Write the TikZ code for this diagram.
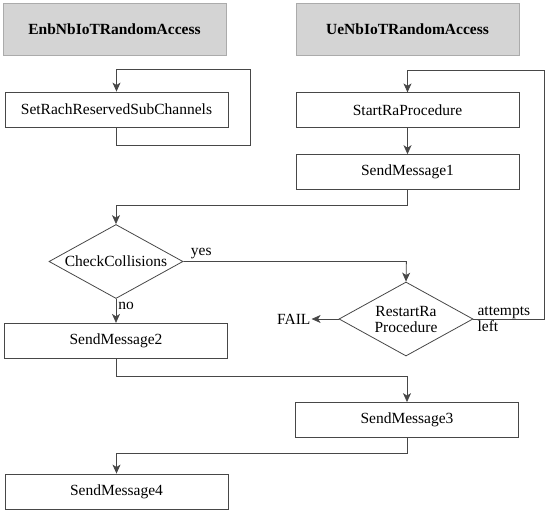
\documentclass[tikz,border=0pt]{standalone}
\usepackage{fontspec}
\setmainfont{Liberation Serif}
\usepackage{xcolor}
\usepackage{tikz}
\usetikzlibrary{arrows,arrows.meta,positioning,shapes}
\definecolor{linegray}{HTML}{474747}
\definecolor{headfill}{HTML}{D4D4D4}
\definecolor{headline}{HTML}{ABABAB}
\tikzset{
  box/.style={rectangle,draw=linegray,line width=0.8pt,minimum width=223pt,minimum height=35pt,inner sep=0pt},
  head/.style={rectangle,draw=headline,fill=headfill,line width=0.8pt,minimum width=223pt,minimum height=52pt,font=\bfseries},
  decision/.style={diamond,draw=linegray,line width=0.8pt,aspect=1.8,inner sep=0pt,
    minimum width=134pt,minimum height=74pt,align=center},
  flow/.style={->,>={Stealth[length=9pt,width=8pt,inset=2.5pt]},draw=linegray,line width=0.8pt},
  lbl/.style={inner sep=2pt,align=left}
}
\begin{document}
\fontsize{15.5}{18}\selectfont
\begin{tikzpicture}[x=1pt,y=1pt,node distance=26pt]
      \useasboundingbox (0,0) rectangle (550,-514);

      % headers
      \node[head] (enbhead) at (114.5,-29) {EnbNbIoTRandomAccess};
      \node[head] (uehead) at (407.5,-29) {UeNbIoTRandomAccess};

      % eNB side
      \node[box] (setrach) at (116.5,-109.5) {SetRachReservedSubChannels};

      % UE side
      \node[box] (start) [below=37pt of uehead] {StartRaProcedure};
      \node[box] (msg1) [below=of start] {SendMessage1};
      \node[decision] (check) at (116,-261.5) {CheckCollisions};
      \node[box] (msg2) [below=24pt of check] {SendMessage2};
      \node[decision] (restart) at (406,-319) {RestartRa\\[-2pt]Procedure};
      \node (fail) [left=27pt of restart,inner sep=1pt] {FAIL};
      \node[box] (msg3) at (407,-420) {SendMessage3};
      \node[box] (msg4) at (116.5,-491.5) {SendMessage4};

      \draw[flow] (setrach.south) -- ++(0,-18) -- ++(133.5,0) |- ([yshift=22pt]setrach.north) -- (setrach.north);
      \draw[flow] (start) -- (msg1);
      \draw[flow] (msg1.south) -- ++(0,-15) -| (check.north);
      \draw[flow] (check.east) -- node[lbl,above,pos=0.08] {yes} ++(223,0) -- (restart.north);
      \draw[flow] (check.south) -- node[lbl,right,pos=0.3] {no} (msg2.north);
      \draw[flow] (restart.west) -- (fail.east);
      \draw[flow] (restart.east) -- ++(71,0) |- ([yshift=22pt]start.north) -- (start.north);
      \node[lbl,anchor=west] (left) at ([xshift=2pt]restart.east) {attempts\\[-2pt]left};
      \draw[flow] (msg2.south) -- ++(0,-18) -| (msg3.north);
      \draw[flow] (msg3.south) -- ++(0,-15) -| (msg4.north);
\end{tikzpicture}
\end{document}
